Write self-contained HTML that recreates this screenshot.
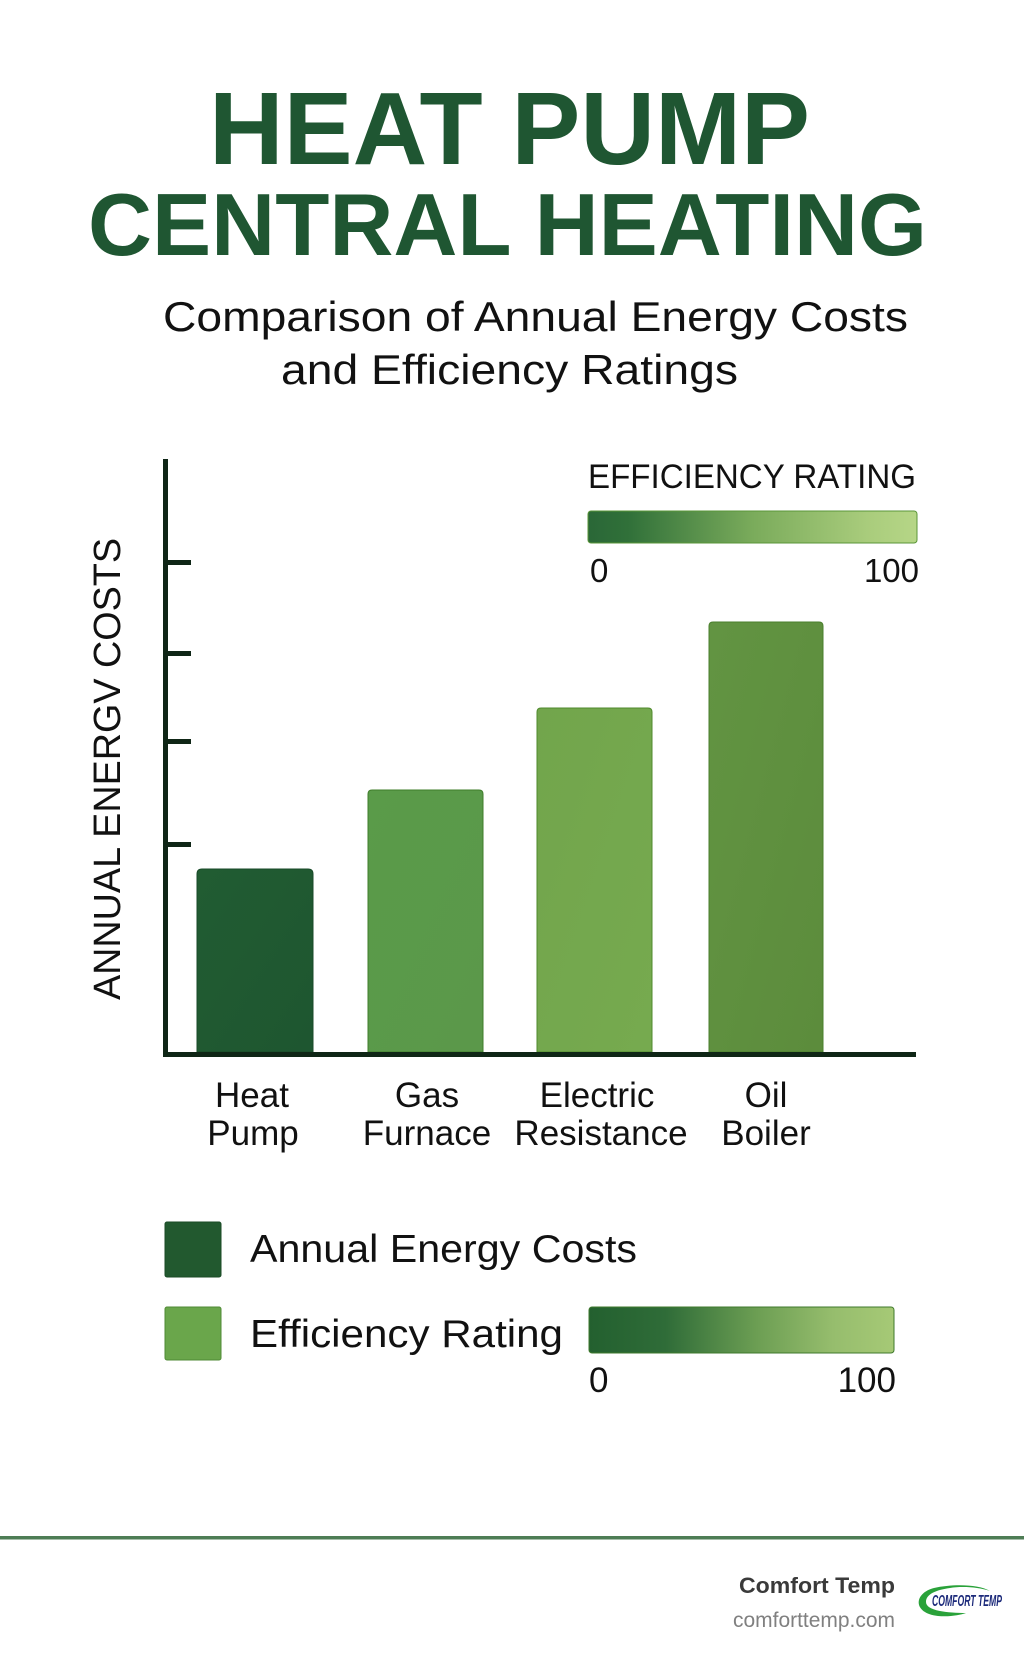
<!DOCTYPE html>
<html>
<head>
<meta charset="utf-8">
<style>
  html,body{margin:0;padding:0;background:#ffffff;}
  body{width:1024px;height:1666px;overflow:hidden;}
  svg{display:block;}
  text{font-family:"Liberation Sans", sans-serif;}
</style>
</head>
<body>
<svg width="1024" height="1666" viewBox="0 0 1024 1666" xmlns="http://www.w3.org/2000/svg">
  <defs>
    <linearGradient id="g1" x1="0" y1="0" x2="1" y2="0">
      <stop offset="0" stop-color="#2a6737"/>
      <stop offset="0.12" stop-color="#307039"/>
      <stop offset="0.5" stop-color="#7aab5b"/>
      <stop offset="0.85" stop-color="#a9cc7c"/>
      <stop offset="1" stop-color="#b6d687"/>
    </linearGradient>
    <linearGradient id="g2" x1="0" y1="0" x2="1" y2="0">
      <stop offset="0" stop-color="#23602f"/>
      <stop offset="0.25" stop-color="#2f6c38"/>
      <stop offset="0.55" stop-color="#6c9e53"/>
      <stop offset="0.8" stop-color="#96bd6d"/>
      <stop offset="1" stop-color="#a6c976"/>
    </linearGradient>
    <linearGradient id="bHP" x1="0" y1="0" x2="1" y2="1">
      <stop offset="0" stop-color="#215c32"/>
      <stop offset="1" stop-color="#1e5630"/>
    </linearGradient>
    <linearGradient id="bGas" x1="0" y1="0" x2="1" y2="1">
      <stop offset="0" stop-color="#5a9b49"/>
      <stop offset="1" stop-color="#5b984a"/>
    </linearGradient>
    <linearGradient id="bEl" x1="0" y1="0" x2="1" y2="1">
      <stop offset="0" stop-color="#72a54c"/>
      <stop offset="1" stop-color="#76aa4f"/>
    </linearGradient>
    <linearGradient id="bOil" x1="0" y1="0" x2="1" y2="1">
      <stop offset="0" stop-color="#629442"/>
      <stop offset="1" stop-color="#5c8c3c"/>
    </linearGradient>
  </defs>

  <!-- Title -->
  <text x="209" y="164" font-size="103" font-weight="bold" fill="#1f5632" textLength="601" lengthAdjust="spacingAndGlyphs">HEAT PUMP</text>
  <text x="88" y="255" font-size="88" font-weight="bold" fill="#1f5632" textLength="839" lengthAdjust="spacingAndGlyphs">CENTRAL HEATING</text>

  <!-- Subtitle -->
  <text x="163" y="331" font-size="42" fill="#111" textLength="745" lengthAdjust="spacingAndGlyphs">Comparison of Annual Energy Costs</text>
  <text x="281" y="384" font-size="42" fill="#111" textLength="457" lengthAdjust="spacingAndGlyphs">and Efficiency Ratings</text>

  <!-- Y axis label -->
  <text transform="translate(120,769) rotate(-90)" x="0" y="0" font-size="38" fill="#111" text-anchor="middle" textLength="462" lengthAdjust="spacingAndGlyphs">ANNUAL ENERGV COSTS</text>

  <!-- Top efficiency legend -->
  <text x="588" y="488" font-size="34" fill="#111" textLength="328" lengthAdjust="spacingAndGlyphs">EFFICIENCY RATING</text>
  <rect x="588" y="511" width="329" height="32" rx="3" fill="url(#g1)" stroke="#5a9638" stroke-width="1"/>
  <text x="590" y="582" font-size="33" fill="#111">0</text>
  <text x="919" y="582" font-size="33" fill="#111" text-anchor="end">100</text>

  <!-- Bars -->
  <path d="M197,1052 V874 Q197,869 202,869 H308 Q313,869 313,874 V1052 Z" fill="url(#bHP)" stroke="#184a28" stroke-width="1"/>
  <path d="M368,1052 V794 Q368,790 372,790 H479 Q483,790 483,794 V1052 Z" fill="url(#bGas)" stroke="#3f7d2a" stroke-width="1"/>
  <path d="M537,1052 V712 Q537,708 541,708 H648 Q652,708 652,712 V1052 Z" fill="url(#bEl)" stroke="#4f8a2c" stroke-width="1"/>
  <path d="M709,1052 V626 Q709,622 713,622 H819 Q823,622 823,626 V1052 Z" fill="url(#bOil)" stroke="#4a7f2c" stroke-width="1"/>

  <!-- Axes -->
  <rect x="163" y="459" width="5" height="598" fill="#0f2616"/>
  <rect x="163" y="1052" width="753" height="5" fill="#0f2616"/>
  <rect x="168" y="560" width="23" height="5" fill="#0f2616"/>
  <rect x="168" y="651" width="23" height="5" fill="#0f2616"/>
  <rect x="168" y="739" width="23" height="5" fill="#0f2616"/>
  <rect x="168" y="842" width="23" height="5" fill="#0f2616"/>

  <!-- Category labels -->
  <g font-size="35" fill="#111" text-anchor="middle">
    <text x="252" y="1107">Heat</text>
    <text x="253" y="1145">Pump</text>
    <text x="427" y="1107">Gas</text>
    <text x="427" y="1145">Furnace</text>
    <text x="597" y="1107">Electric</text>
    <text x="601" y="1145">Resistance</text>
    <text x="766" y="1107">Oil</text>
    <text x="766" y="1145">Boiler</text>
  </g>

  <!-- Bottom legend -->
  <rect x="165" y="1222" width="56" height="55" rx="2" fill="#22592f" stroke="#1a4a26" stroke-width="1"/>
  <text x="250" y="1262" font-size="39" fill="#111" textLength="387" lengthAdjust="spacingAndGlyphs">Annual Energy Costs</text>
  <rect x="165" y="1307" width="56" height="53" rx="2" fill="#6aa64b" stroke="#4f8a35" stroke-width="1"/>
  <text x="250" y="1347" font-size="39" fill="#111" textLength="313" lengthAdjust="spacingAndGlyphs">Efficiency Rating</text>
  <rect x="589" y="1307" width="305" height="46" rx="3" fill="url(#g2)" stroke="#3f7a2c" stroke-width="1"/>
  <text x="589" y="1392" font-size="35" fill="#111">0</text>
  <text x="896" y="1392" font-size="35" fill="#111" text-anchor="end">100</text>

  <!-- Footer -->
  <rect x="0" y="1536" width="1024" height="3.5" fill="#4e7d55"/>
  <text x="895" y="1593" font-size="22" font-weight="bold" fill="#3a3a3a" text-anchor="end" textLength="156" lengthAdjust="spacingAndGlyphs">Comfort Temp</text>
  <text x="895" y="1627" font-size="21" fill="#808080" text-anchor="end" textLength="162" lengthAdjust="spacingAndGlyphs">comforttemp.com</text>

  <!-- Logo -->
  <path d="M934,1588 C914,1593 912,1613 938,1616 C950,1617 960,1615 966,1613 C948,1613 926,1611 926,1602 C926,1594 936,1590 950,1588 C962,1586 978,1587 990,1591 C978,1584 952,1584 934,1588 Z" fill="#2aa23a"/>
  <text x="932" y="1606" font-size="16" font-weight="bold" font-style="italic" fill="#1c2a7a" textLength="70" lengthAdjust="spacingAndGlyphs">COMFORT TEMP</text>
</svg>
</body>
</html>
